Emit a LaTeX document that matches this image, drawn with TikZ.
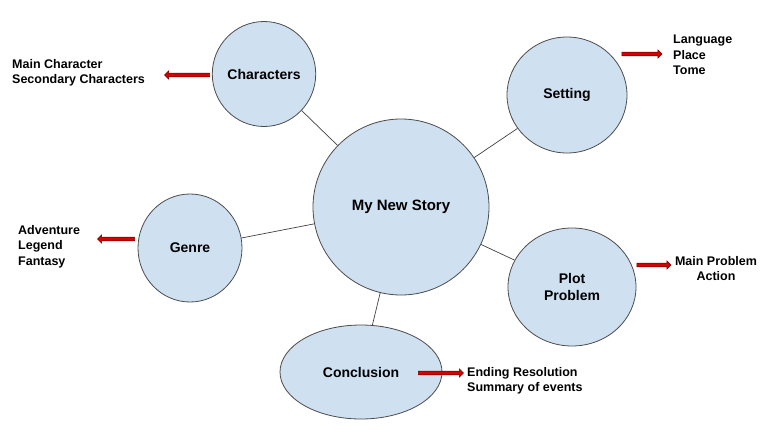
\documentclass[tikz,border=0pt]{standalone}
\usepackage{fontspec}
\setmainfont{Liberation Sans}
\usetikzlibrary{shapes.geometric,shapes.arrows}
\definecolor{bub}{HTML}{CFE0F1}
\definecolor{dred}{HTML}{8B0000}
\begin{document}
\begin{tikzpicture}[x=1pt,y=-1pt,
  bubble/.style={ellipse,draw=black!70,fill=bub,line width=0.8pt,inner sep=0pt,font=\bfseries\fontsize{14}{17}\selectfont,align=center},
  lbl/.style={font=\bfseries\fontsize{12.5}{15.5}\selectfont,inner sep=0pt},
  rarr/.style={single arrow,fill=red!85!black,draw=dred,line width=0.6pt,minimum height=#1,minimum width=8pt,single arrow head extend=2pt,inner sep=1.3pt},
  link/.style={draw=black!75,line width=0.7pt}]
\useasboundingbox (0,0) rectangle (768,433);
\node[bubble,minimum width=176pt,minimum height=176pt,font=\bfseries\fontsize{15}{18}\selectfont] (main) at (401,207) {My New Story};
\node[bubble,minimum width=97pt,minimum height=105pt] (char) at (264,74) {Characters};
\node[bubble,minimum width=120pt,minimum height=116pt] (set) at (567,95) {Setting};
\node[bubble,minimum width=104pt,minimum height=108pt] (genre) at (190,248) {Genre};
\node[bubble,minimum width=128pt,minimum height=118pt] (plot) at (572,287) {Plot\\Problem};
\node[bubble,minimum width=162pt,minimum height=94pt] (conc) at (361,372) {Conclusion};
\draw[link] (main) -- (char);
\draw[link] (main) -- (set);
\draw[link] (main) -- (genre);
\draw[link] (main) -- (plot);
\draw[link] (main) -- (conc);
\node[lbl,anchor=north west,align=left] (tchar) at (12,59) {Main Character\\Secondary Characters};
\node[lbl,anchor=north west,align=left] (tset) at (673,35) {Language\\Place\\Tome};
\node[lbl,anchor=north west,align=left] (tgenre) at (18,225) {Adventure\\Legend\\Fantasy};
\node[lbl,anchor=north,align=center] (tplot) at (716,256) {Main Problem\\Action};
\node[lbl,anchor=north west,align=left] (tconc) at (467,367) {Ending Resolution\\Summary of events};
\node[rarr=45pt,shape border rotate=180] (a1) at (188,75) {};
\node[rarr=40pt] (a2) at (641,54) {};
\node[rarr=37pt,shape border rotate=180] (a3) at (117,239) {};
\node[rarr=34pt] (a4) at (653,265) {};
\node[rarr=45pt] (a5) at (440,373) {};
\end{tikzpicture}
\end{document}
